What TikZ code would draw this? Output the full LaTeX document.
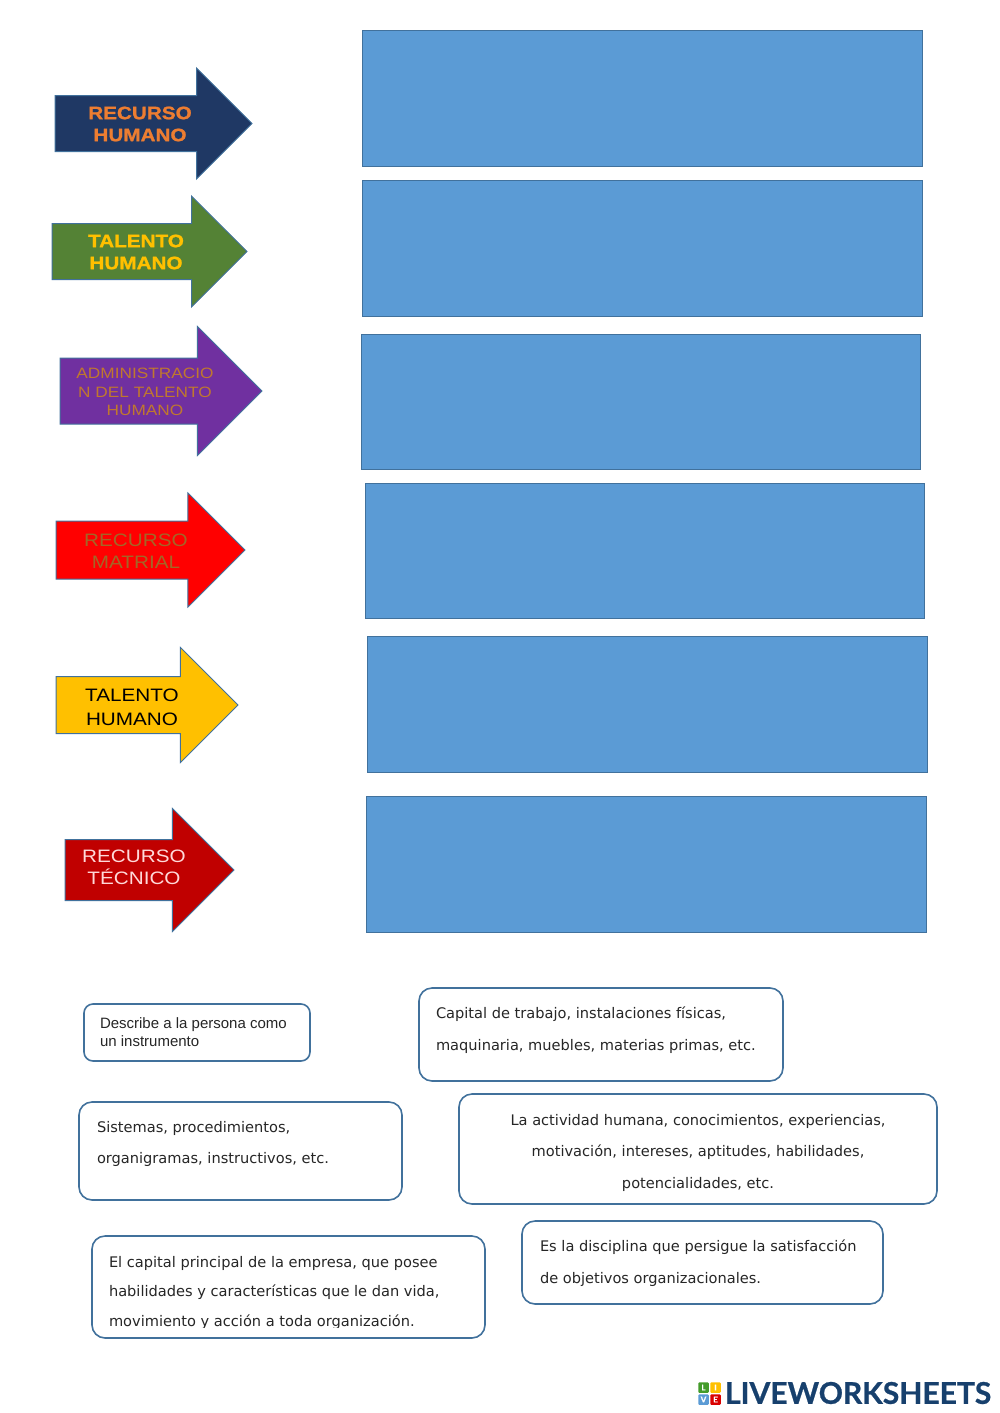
\documentclass[tikz,border=0pt]{standalone}
\usepackage{fontspec}
\usetikzlibrary{shapes,arrows,positioning}
\newfontfamily\wideface[FakeStretch=1.15,BoldFeatures={FakeBold=1.2}]{Liberation Sans}
\newfontfamily\boxface{DejaVu Sans}
\newfontfamily\plainface{Liberation Sans}
\newfontfamily\logoface[BoldFeatures={FakeBold=0.8}]{Lato}
\definecolor{edgeblue}{HTML}{41719C}
\definecolor{boxblue}{HTML}{5B9BD5}
\definecolor{navy}{HTML}{1F3864}
\definecolor{leaf}{HTML}{548235}
\definecolor{violet}{HTML}{7030A0}
\definecolor{amber}{HTML}{FFC000}
\definecolor{crimson}{HTML}{C00000}
\definecolor{carrot}{HTML}{ED7D31}
\definecolor{rust}{HTML}{C0782E}
\definecolor{logoblue}{HTML}{17406D}

\begin{document}
\begin{tikzpicture}[% px of the page, y runs down
				x=1pt,y=-1pt,
				every node/.style={align=center,inner sep=0pt,outer sep=0pt},
				answerbox/.style={rectangle,draw=edgeblue,fill=boxblue,line width=1pt,anchor=north west},
				arrowbox/.style n args={4}{single arrow,draw=edgeblue,fill=#1,line width=1pt,anchor=tail,
					minimum height=#2,minimum width=#3,inner ysep=#4/2,
					single arrow head extend=#3/2-#4/2},
				arrowtext/.style={font=\wideface\bfseries\fontsize{18}{22}\selectfont},
				thintext/.style={font=\wideface\fontsize{15}{18.3}\selectfont},
				defbox/.style={rectangle,rounded corners=13pt,draw=edgeblue,fill=white,line width=1.6pt,anchor=north west},
				deftext/.style={font=\boxface\fontsize{14.6}{31.5}\selectfont,align=left,anchor=north west,text=black!85},
				logotile/.style={rectangle,minimum size=10.5pt,rounded corners=1pt,text=white,font=\logoface\bfseries\fontsize{8}{8}\selectfont}
			]
			\useasboundingbox (0,0) rectangle (1000,1413);

			% answer boxes
			\node[answerbox,minimum width=560pt,minimum height=136pt](B1) at (362.5,30.5){};
			\node[answerbox,minimum width=560pt,minimum height=136pt](B2) at (362.5,180.5){};
			\node[answerbox,minimum width=559pt,minimum height=135pt](B3) at (361.5,334.5){};
			\node[answerbox,minimum width=559pt,minimum height=135pt](B4) at (365.5,483.5){};
			\node[answerbox,minimum width=560pt,minimum height=136pt](B5) at (367.5,636.5){};
			\node[answerbox,minimum width=560pt,minimum height=136pt](B6) at (366,796.5){};

			% arrows
			\node[arrowbox={navy}{197pt}{110pt}{55pt}](A1) at (55,123.5){};
			\node[arrowbox={leaf}{195pt}{110pt}{55pt}](A2) at (52,251.5){};
			\node[arrowbox={violet}{202pt}{128pt}{65pt}](A3) at (60,391){};
			\node[arrowbox={red}{189pt}{113pt}{57pt}](A4) at (56,550){};
			\node[arrowbox={amber}{182pt}{114pt}{56pt}](A5) at (56,705){};
			\node[arrowbox={crimson}{169pt}{122pt}{60pt}](A6) at (65,870){};

			\node[arrowtext,text=carrot](T1) at (140,124){RECURSO\\HUMANO};
			\node[arrowtext,text=amber](T2) at (136,252){TALENTO\\HUMANO};
			\node[thintext,text=rust](T3) at (145,392){ADMINISTRACIO\\N DEL TALENTO\\HUMANO};
			\node[thintext,text=rust!85!black,font=\wideface\fontsize{18}{22}\selectfont](T4) at (136,551){RECURSO\\MATRIAL};
			\node[thintext,text=black,font=\wideface\fontsize{18}{24}\selectfont](T5) at (132,707){TALENTO\\HUMANO};
			\node[thintext,text=red!15!white,font=\wideface\fontsize{18}{22}\selectfont](T6) at (134,867){RECURSO\\TÉCNICO};

			% definition boxes
			\node[defbox,rounded corners=9pt,minimum width=226pt,minimum height=57pt](D1) at (84,1004){};
			\node[defbox,minimum width=364pt,minimum height=93pt](D2) at (419,988){};
			\node[defbox,minimum width=323pt,minimum height=98pt](D3) at (79,1102){};
			\node[defbox,minimum width=478pt,minimum height=110pt](D4) at (459,1094){};
			\node[defbox,minimum width=393pt,minimum height=102pt](D5) at (92,1236){};
			\node[defbox,minimum width=361pt,minimum height=83pt](D6) at (522,1221){};

			\node[deftext,font=\plainface\fontsize{15}{18}\selectfont](X1)[below right=14pt and 16pt of D1.north west]{Describe a la persona como\\un instrumento};
			\node[deftext](X2)[below right=19pt and 17pt of D2.north west]{Capital de trabajo, instalaciones físicas,\\maquinaria, muebles, materias primas, etc.};
			\node[deftext](X3)[below right=19pt and 18pt of D3.north west]{Sistemas, procedimientos,\\organigramas, instructivos, etc.};
			\node[deftext,align=center,anchor=north](X4)[below=20pt of D4.north]{La actividad humana, conocimientos, experiencias,\\motivación, intereses, aptitudes, habilidades,\\potencialidades, etc.};
			\begin{scope}
				\clip (D5.north west) rectangle (485,1327);
				\node[deftext,font=\boxface\fontsize{14.6}{29.5}\selectfont](X5)[below right=20pt and 17pt of D5.north west]{El capital principal de la empresa, que posee\\habilidades y características que le dan vida,\\movimiento y acción a toda organización.};
			\end{scope}
			\node[deftext](X6)[below right=19pt and 18pt of D6.north west]{Es la disciplina que persigue la satisfacción\\de objetivos organizacionales.};

			% logo
			\node[logotile,fill=leaf!80!green](L1) at (703.5,1387.5){L};
			\node[logotile,fill=amber](L2)[right=1.5pt of L1]{I};
			\node[logotile,fill=boxblue](L3)[below=1.5pt of L1]{V};
			\node[logotile,fill=red!85!black](L4)[right=1.5pt of L3]{E};
			\node[font=\logoface\bfseries\fontsize{30}{30}\selectfont,text=logoblue,anchor=west](L5) at (725,1393){LIVEWORKSHEETS};
		\end{tikzpicture}
\end{document}
